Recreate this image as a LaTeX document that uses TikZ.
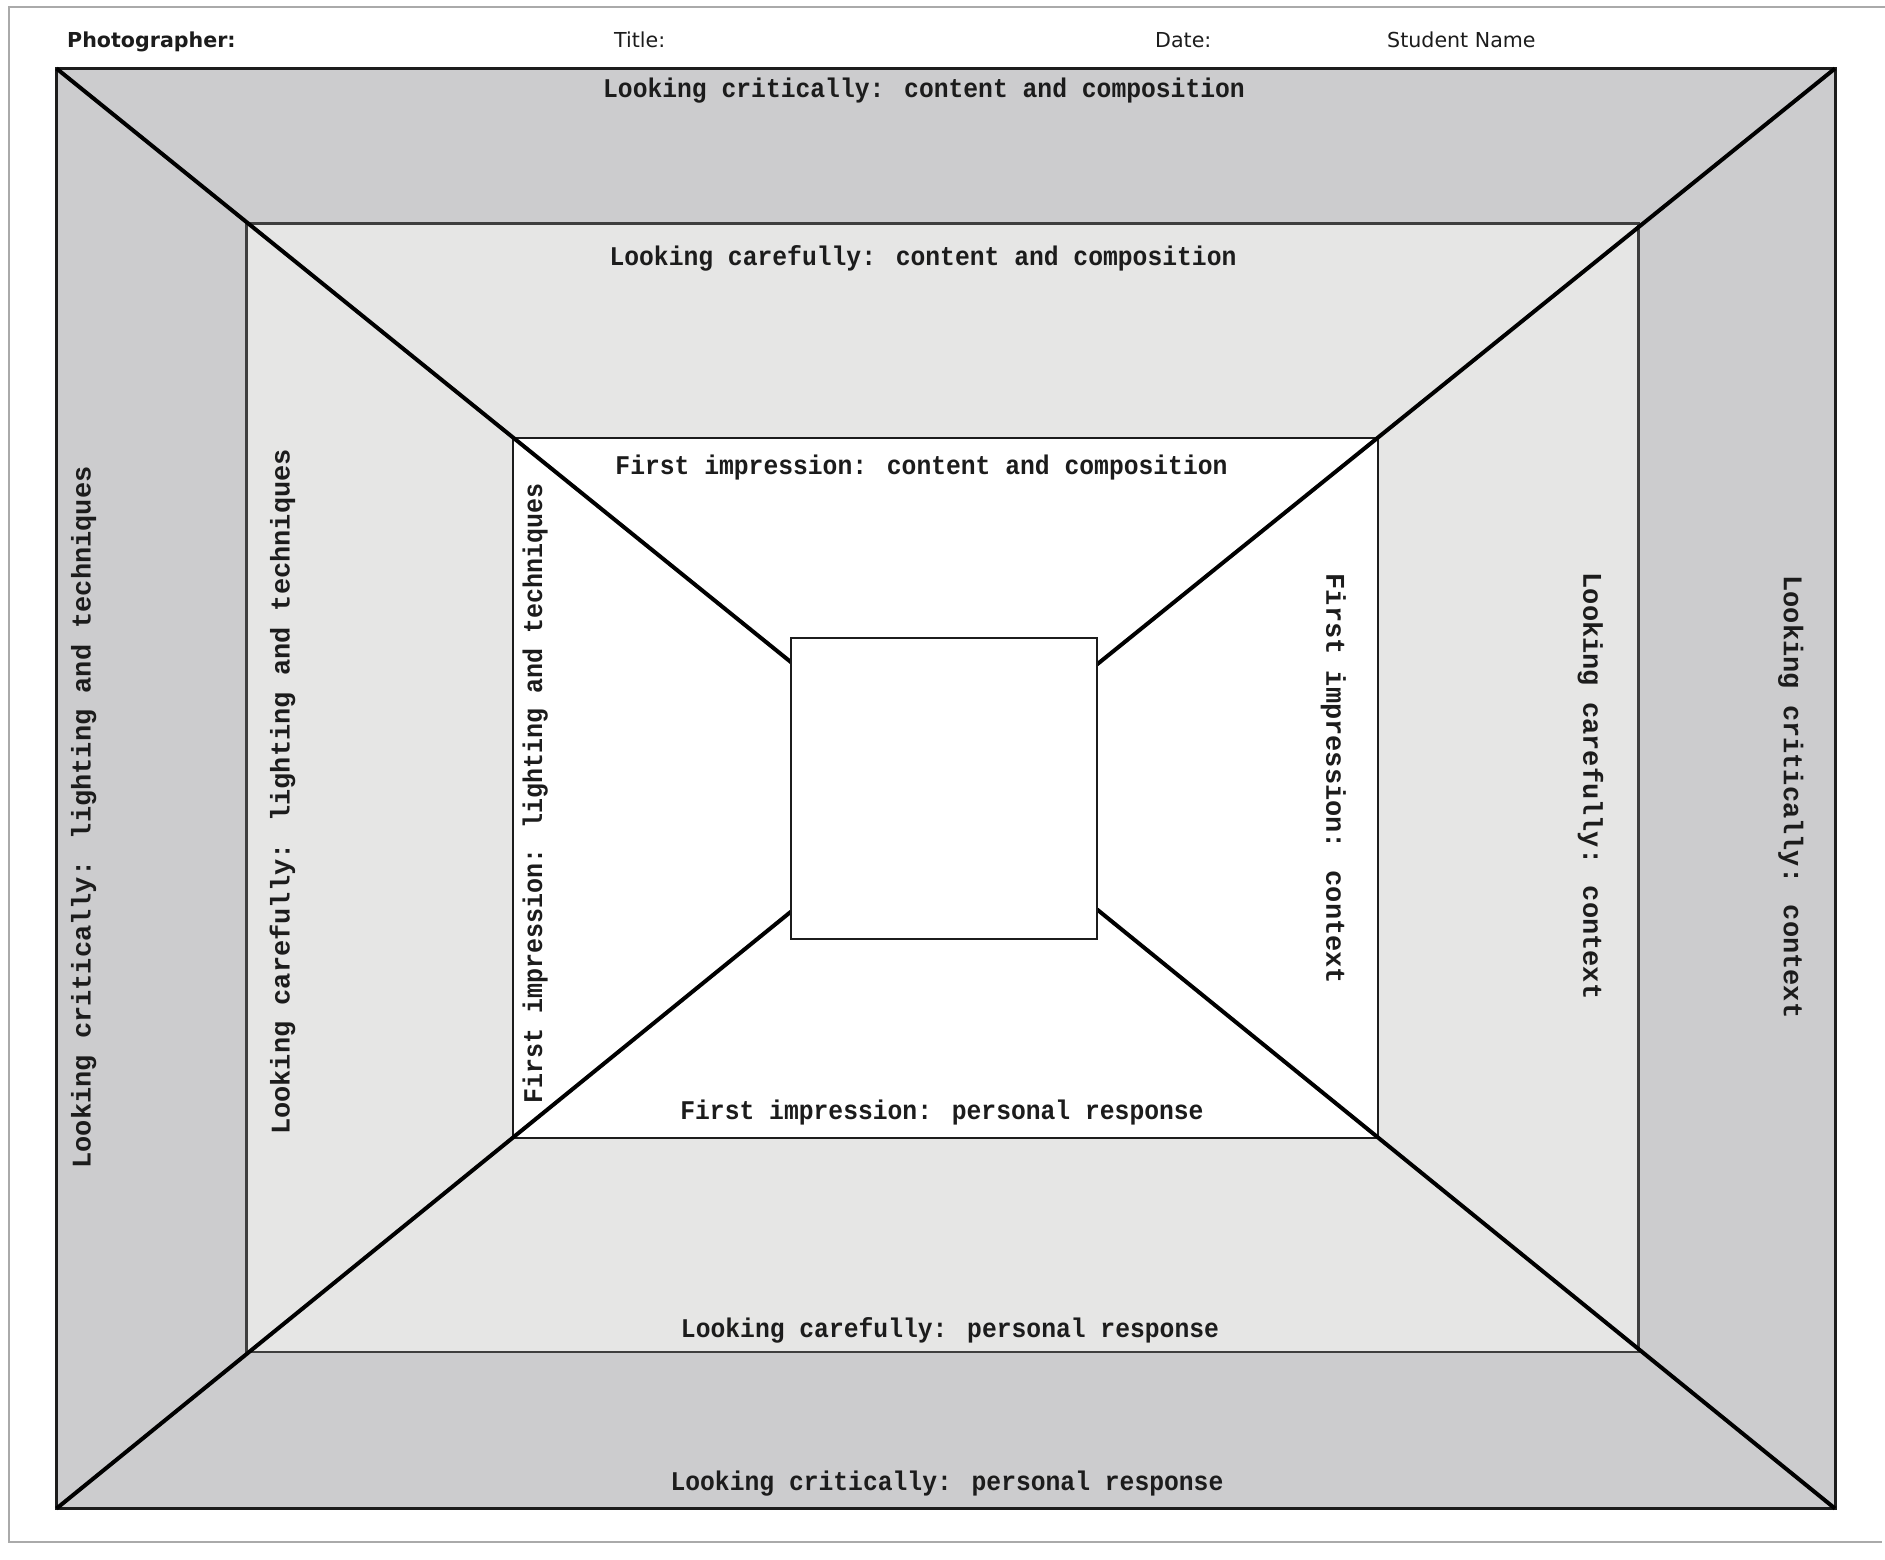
\documentclass[tikz,border=0pt]{standalone}
\usepackage{fontspec}
\usepackage{graphicx}
\setmainfont{DejaVu Sans}
\newfontfamily\tw{Liberation Mono}
\definecolor{bandA}{RGB}{204,204,206}
\definecolor{bandB}{RGB}{230,230,229}
\definecolor{ink}{RGB}{28,28,28}
\definecolor{frame}{RGB}{170,170,170}
\newcommand{\twf}{\tw\bfseries\fontsize{27}{27}\selectfont}
\newcommand{\hlab}[1]{\scalebox{0.914}[1]{\twf #1}}
\newcommand{\vlab}[1]{{\twf #1}}
\newcommand{\vlabn}[1]{\scalebox{0.926}[1]{\twf #1}}
\tikzset{
  lab/.style={inner sep=0pt, anchor=mid, text=ink},
  head/.style={inner sep=0pt, anchor=base west, text=ink, font=\fontsize{20.6}{24}\selectfont},
  rim/.style={draw=ink, line width=3pt},
  midrim/.style={draw=ink!85, line width=2.4pt},
  innerrim/.style={draw=ink, line width=2pt},
  diag/.style={draw=black, line width=4pt},
  pageline/.style={draw=frame, line width=2pt}
}
\begin{document}
\begin{tikzpicture}[x=1pt,y=-1pt]
\useasboundingbox (0,0) rectangle (1885,1560);
\fill[white] (0,0) rectangle (1885,1560);
% page frame
\coordinate (pf1) at (9,7.3);
\coordinate (pf2) at (1885,7.3);
\coordinate (pf3) at (9,1541.7);
\coordinate (pf4) at (1882,1541.7);
\draw[pageline] (pf2) -- (pf1) -- (pf3) -- (pf4);
% header
\node[head, font=\bfseries\fontsize{20.6}{24}\selectfont] (ph) at (67,47.5) {Photographer:};
\node[head] (ti) at (614,47.5) {Title:};
\node[head] (da) at (1155,47.5) {Date:};
\node[head] (sn) at (1387,47.5) {Student Name};
% frames
\coordinate (oTL) at (56.5,68.5);
\coordinate (oBR) at (1835,1508.5);
\coordinate (oTR) at (1835,68.5);
\coordinate (oBL) at (56.5,1508.5);
\coordinate (mTL) at (246.5,223.5);
\coordinate (mBR) at (1638.6,1352.2);
\coordinate (iTL) at (513,437.5);
\coordinate (iBR) at (1378,1137.5);
\coordinate (sTL) at (791,637.5);
\coordinate (sBR) at (1097,939);
\fill[bandA] (oTL) rectangle (oBR);
\fill[bandB] (mTL) rectangle (mBR);
\fill[white] (iTL) rectangle (iBR);
\draw[rim] (oTL) rectangle (oBR);
\draw[midrim] (mTL) rectangle (mBR);
\draw[innerrim] (iTL) rectangle (iBR);
% diagonals
\coordinate (dTL) at (791,662.2);
\coordinate (dTR) at (1097,664.4);
\coordinate (dBL) at (791,911.6);
\coordinate (dBR) at (1097,909.4);
\draw[diag] (oTL) -- (dTL);
\draw[diag] (oTR) -- (dTR);
\draw[diag] (oBL) -- (dBL);
\draw[diag] (oBR) -- (dBR);
\draw[innerrim, fill=white] (sTL) rectangle (sBR);
% horizontal labels
\node[lab] (t1) at (924,95) {\hlab{Looking critically: content and composition}};
\node[lab] (t2) at (923,262.5) {\hlab{Looking carefully: content and composition}};
\node[lab] (t3) at (921.5,472) {\hlab{First impression: content and composition}};
\node[lab] (b3) at (942,1117) {\hlab{First impression: personal response}};
\node[lab] (b2) at (950,1335) {\hlab{Looking carefully: personal response}};
\node[lab] (b1) at (947,1488) {\hlab{Looking critically: personal response}};
% vertical labels
\node[lab, rotate=90] (l1) at (88,817.5) {\vlab{Looking critically: lighting and techniques}};
\node[lab, rotate=90] (l2) at (287,792) {\vlab{Looking carefully: lighting and techniques}};
\node[lab, rotate=90] (l3) at (539.5,793.5) {\vlabn{First impression: lighting and techniques}};
\node[lab, rotate=-90] (r3) at (1329,779) {\vlab{First impression: context}};
\node[lab, rotate=-90] (r2) at (1586,786) {\vlab{Looking carefully: context}};
\node[lab, rotate=-90] (r1) at (1786.5,797) {\vlab{Looking critically: context}};
\end{tikzpicture}
\end{document}
